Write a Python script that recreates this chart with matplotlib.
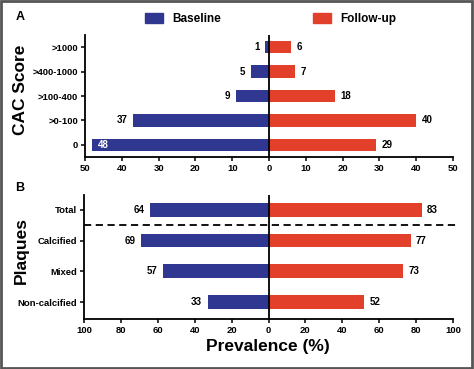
import numpy as np
import matplotlib.pyplot as plt
from matplotlib.patches import Rectangle, Patch

plt.rcParams['font.family'] = ['Liberation Sans', 'DejaVu Sans']
plt.rcParams['font.weight'] = 'bold'

blue = '#2f3790'
red = '#e2402b'

cac_cats = ['0', '>0-100', '>100-400', '>400-1000', '>1000']
cac_base = [48, 37, 9, 5, 1]
cac_follow = [29, 40, 18, 7, 6]

plq_cats = ['Non-calcified', 'Mixed', 'Calcified', 'Total']
plq_base = [33, 57, 69, 64]
plq_follow = [52, 73, 77, 83]

fig = plt.figure(figsize=(4.74, 3.69), dpi=100)
fig.patch.set_facecolor('white')

axA = fig.add_axes([85/474, 1-157/369, 368/474, 122/369])
axB = fig.add_axes([84/474, 1-319/369, 369/474, 124/369])


def style(ax, lim, step):
    for s in ['top', 'right']:
        ax.spines[s].set_visible(False)
    for s in ['left', 'bottom']:
        ax.spines[s].set_linewidth(1.3)
    ax.set_xlim(-lim, lim)
    t = np.arange(-lim, lim + 1, step)
    ax.set_xticks(t)
    ax.set_xticklabels([str(abs(int(v))) for v in t])
    ax.tick_params(labelsize=6.8, width=1.1, length=3, pad=2)
    ax.axvline(0, color='black', lw=1.3)


# panel A
y = np.arange(len(cac_cats))
axA.barh(y, -np.array(cac_base), height=0.5, color=blue)
axA.barh(y, cac_follow, height=0.5, color=red)
for i in range(len(y)):
    if cac_base[i] > 40:
        axA.text(-cac_base[i] + 1.5, y[i], str(cac_base[i]), color='white',
                 ha='left', va='center', fontsize=7)
    else:
        axA.text(-cac_base[i] - 1.5, y[i], str(cac_base[i]),
                 ha='right', va='center', fontsize=7)
    axA.text(cac_follow[i] + 1.5, y[i], str(cac_follow[i]),
             ha='left', va='center', fontsize=7)
style(axA, 50, 10)
axA.set_ylim(-0.5, 4.5)
axA.set_yticks(y)
axA.set_yticklabels(cac_cats)

# panel B
y2 = np.arange(len(plq_cats))
axB.barh(y2, -np.array(plq_base), height=0.45, color=blue)
axB.barh(y2, plq_follow, height=0.45, color=red)
for i in range(len(y2)):
    axB.text(-plq_base[i] - 3, y2[i], str(plq_base[i]),
             ha='right', va='center', fontsize=7)
    axB.text(plq_follow[i] + 3, y2[i], str(plq_follow[i]),
             ha='left', va='center', fontsize=7)
style(axB, 100, 20)
axB.set_ylim(-0.55, 3.48)
axB.set_yticks(y2)
axB.set_yticklabels(plq_cats)
axB.plot([-100, 102], [2.52, 2.52], ls='--', color='black', lw=1.3,
         dashes=(4, 2.5), clip_on=False)

# axis titles
fig.text(21/474, 1-90/369, 'CAC Score', fontsize=12.5, fontweight='bold',
         rotation=90, ha='center', va='center')
fig.text(21/474, 1-250/369, 'Plaques', fontsize=12.5, fontweight='bold',
         rotation=90, ha='center', va='center')
fig.text(268/474, 1-346/369, 'Prevalence (%)', fontsize=12.5, fontweight='bold',
         ha='center', va='center')

# legend
fig.legend(handles=[Patch(color=blue, label='Baseline')], loc='center',
           bbox_to_anchor=(183/474, 1-19/369), frameon=False, fontsize=8.5,
           handlelength=1.5, handleheight=0.9)
fig.legend(handles=[Patch(color=red, label='Follow-up')], loc='center',
           bbox_to_anchor=(355/474, 1-19/369), frameon=False, fontsize=8.5,
           handlelength=1.5, handleheight=0.9)

fig.text(20/474, 1-17/369, 'A', fontsize=9, ha='center', va='center')
fig.text(20/474, 1-188/369, 'B', fontsize=9, ha='center', va='center')

fig.patches.append(Rectangle((0.002, 0.003), 0.994, 0.993, transform=fig.transFigure,
                             fill=False, edgecolor='#555555', lw=2))

fig.savefig('out.png', dpi=100)
